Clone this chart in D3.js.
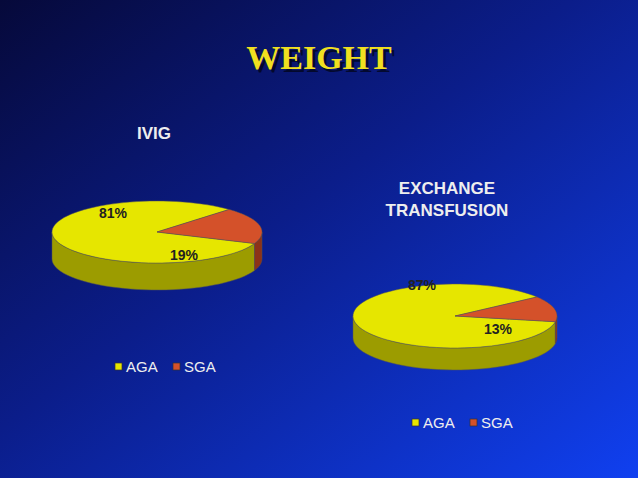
<!DOCTYPE html><html><head><script src="https://cdn.jsdelivr.net/npm/d3@7"></script>
<style>body{margin:0}svg{display:block}</style></head><body><script>
const categories=["AGA","SGA"];
const ivigValues=[81,19];
const exchangeValues=[87,13];
const titles=["IVIG","EXCHANGE TRANSFUSION"];
const W=638,H=478;
const svg=d3.select("body").append("svg").attr("width",W).attr("height",H);
const defs=svg.append("defs");
const g=defs.append("linearGradient").attr("id","bg").attr("x1","0").attr("y1","0").attr("x2","1").attr("y2","1");
g.append("stop").attr("offset","0").attr("stop-color","#06093a");
g.append("stop").attr("offset","0.45").attr("stop-color","#0b1d8a");
g.append("stop").attr("offset","1").attr("stop-color","#1040f0");
svg.append("rect").attr("width",W).attr("height",H).attr("fill","url(#bg)");
svg.append("text").attr("x",322).attr("y",72).attr("text-anchor","middle").attr("font-family","Liberation Serif").attr("font-weight","bold").attr("font-size",34).attr("fill","#000").attr("opacity",0.6).text("WEIGHT");
svg.append("text").attr("x",319).attr("y",69).attr("text-anchor","middle").attr("font-family","Liberation Serif").attr("font-weight","bold").attr("font-size",34).attr("fill","#f0e020").text("WEIGHT");
const topCol=["#e6e600","#d4512a"],sideCol=["#9c9c00","#8c3218"];
function pie3d(vals,cx,cy,rx,ry,dep,offset,labels){
  const arcs=d3.pie().sort(null).startAngle(offset).endAngle(offset+2*Math.PI)(vals);
  const gp=svg.append("g");
  const P=(a)=>[cx+rx*Math.cos(a),cy+ry*Math.sin(a)];
  arcs.forEach((d,i)=>{
    for(let k=0;k<2;k++){
      let a1=Math.max(d.startAngle,k*2*Math.PI),a2=Math.min(d.endAngle,k*2*Math.PI+Math.PI);
      if(a2<=a1)continue;
      const pts=d3.range(0,41).map(j=>P(a1+(a2-a1)*j/40));
      const pts2=pts.map(p=>[p[0],p[1]+dep]).reverse();
      gp.append("path").attr("d","M"+pts.concat(pts2).map(p=>p.join(",")).join("L")+"Z").attr("fill",sideCol[i]).attr("stroke","#555").attr("stroke-width",0.5);
    }
  });
  arcs.forEach((d,i)=>{
    const pts=d3.range(0,81).map(j=>P(d.startAngle+(d.endAngle-d.startAngle)*j/80));
    gp.append("path").attr("d","M"+cx+","+cy+"L"+pts.map(p=>p.join(",")).join("L")+"Z").attr("fill",topCol[i]).attr("stroke","#555").attr("stroke-width",0.5);
  });
  arcs.forEach((d,i)=>{
    svg.append("text").attr("x",labels[i][0]).attr("y",labels[i][1]).attr("font-family","Liberation Sans").attr("font-weight","bold").attr("font-size",14).attr("fill","#222").text(vals[i]+"%");
  });
}
pie3d(ivigValues,157,232,105,31,27,0.38,[[99,218],[170,260]]);
pie3d(exchangeValues,455,316,102,32,22,0.18,[[408,290],[484,334]]);
const tf={"font-family":"Liberation Sans","font-weight":"bold","font-size":17,"fill":"#eeeeee"};
function T(x,y,s,anchor){const t=svg.append("text").attr("x",x).attr("y",y).attr("text-anchor",anchor||"start").text(s);for(const k in tf)t.attr(k,tf[k]);}
T(137,139,titles[0]);
T(447,194,"EXCHANGE","middle");T(447,216,"TRANSFUSION","middle");
function legend(x,y){
  categories.forEach((c,i)=>{
    const xx=x+i*58;
    svg.append("rect").attr("x",xx).attr("y",y-9).attr("width",7).attr("height",7).attr("fill",topCol[i]).attr("stroke","#333").attr("stroke-width",0.7);
    svg.append("text").attr("x",xx+11).attr("y",y).attr("font-family","Liberation Sans").attr("font-size",15).attr("fill","#eee").text(c);
  });
}
legend(115,372);legend(412,428);
</script></body></html>
